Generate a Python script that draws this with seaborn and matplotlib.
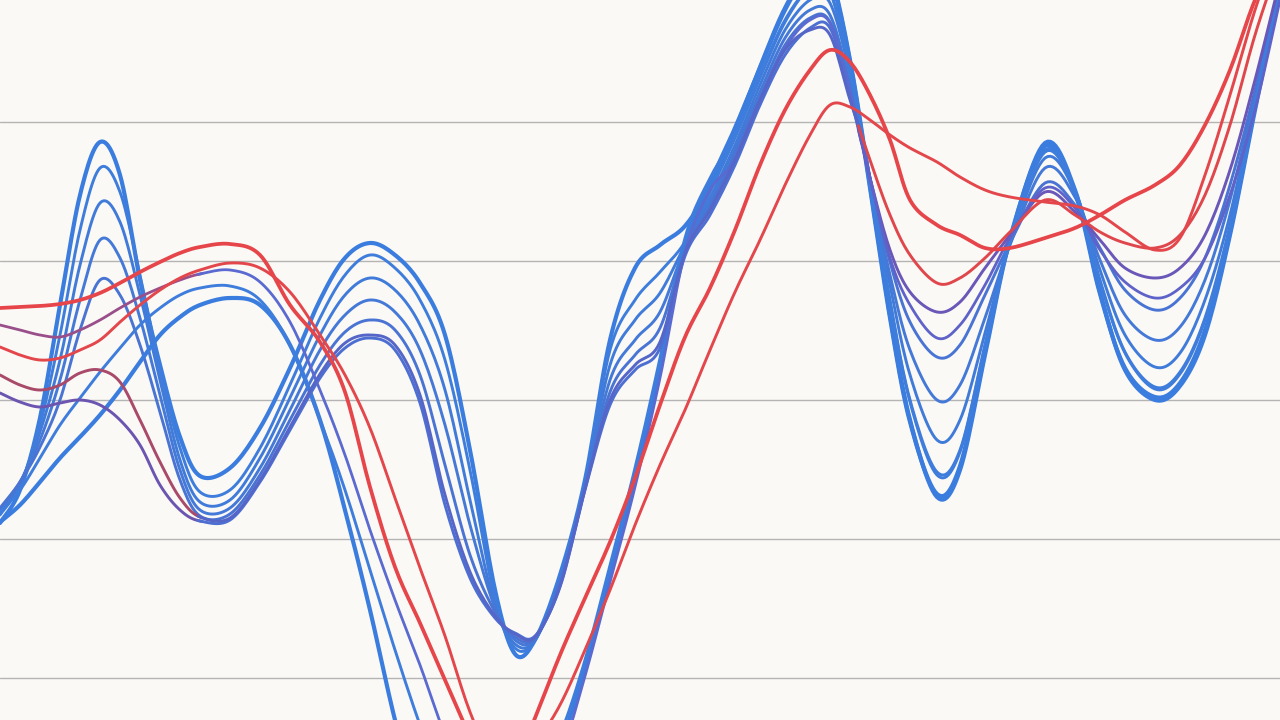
import matplotlib
matplotlib.use("Agg")
import matplotlib.pyplot as plt
import numpy as np
import pandas as pd
import seaborn as sns

# Shared x positions (pixels across the frame)
X = [0, 20, 40, 60, 80, 100, 120, 140, 160, 180,
     200, 230, 260, 290, 320, 345, 370, 395, 420, 445,
     470, 495, 515, 535, 560, 585, 610, 635, 660, 685,
     710, 735, 760, 785, 810, 830, 850, 870, 890, 910,
     937, 960, 985, 1010, 1045, 1075, 1100, 1125, 1155, 1180,
     1205, 1230, 1255, 1280]

# Horizontal grid lines
GRID_Y = [122, 261, 400, 539, 678]

# "A" family: sharp peak near x=100
A0 = [523, 490, 418, 305, 195, 142, 175, 280, 365, 437,
      476, 468, 428, 368, 300, 258, 243, 255, 283, 335,
      450, 590, 654, 640, 575, 480, 340, 268, 245, 226,
      187, 130, 67, 8, -30, -25, 60, 185, 315, 420,
      497, 470, 355, 240, 143, 190, 292, 370, 400, 386,
      335, 235, 110, -10]
A1 = [515, 485, 425, 335, 230, 168, 192, 275, 370, 448,
      492, 490, 448, 385, 318, 275, 255, 268, 300, 360,
      470, 600, 648, 640, 578, 482, 350, 300, 272, 242,
      192, 138, 78, 22, -12, -8, 70, 180, 300, 400,
      472, 450, 345, 242, 150, 190, 280, 352, 387, 372,
      318, 225, 105, -15]
A2 = [512, 483, 432, 360, 265, 203, 222, 295, 380, 460,
      502, 500, 458, 398, 335, 295, 278, 290, 325, 390,
      500, 606, 644, 640, 580, 484, 365, 320, 293, 245,
      198, 145, 85, 30, 0, 3, 75, 178, 285, 375,
      440, 420, 333, 243, 158, 192, 270, 335, 367, 353,
      300, 215, 100, -15]
A3 = [510, 482, 440, 380, 300, 240, 258, 318, 395, 470,
      510, 508, 468, 410, 350, 315, 300, 312, 350, 425,
      525, 608, 640, 639, 582, 486, 380, 340, 312, 248,
      203, 150, 92, 38, 10, 15, 85, 180, 275, 350,
      400, 385, 318, 245, 168, 197, 260, 315, 340, 327,
      280, 200, 95, -15]
A4 = [508, 482, 447, 400, 330, 280, 295, 345, 412, 480,
      516, 514, 475, 420, 365, 332, 320, 330, 375, 465,
      555, 612, 637, 638, 584, 488, 392, 355, 328, 250,
      207, 155, 98, 45, 18, 22, 92, 178, 262, 322,
      357, 345, 295, 243, 183, 205, 248, 290, 310, 298,
      258, 185, 90, -15]
A5 = [375, 385, 390, 385, 373, 370, 382, 420, 462, 498,
      517, 518, 480, 427, 374, 343, 335, 345, 395, 495,
      572, 616, 634, 637, 586, 489, 400, 365, 342, 253,
      210, 160, 100, 50, 30, 35, 100, 160, 215, 255,
      283, 278, 258, 232, 200, 215, 232, 243, 248, 235,
      195, 125, 35, -40]
A6 = [393, 402, 407, 403, 400, 405, 420, 445, 485, 510,
      521, 520, 482, 430, 378, 348, 338, 350, 403, 505,
      578, 618, 633, 636, 587, 490, 405, 370, 348, 256,
      215, 165, 105, 55, 28, 28, 95, 178, 250, 292,
      312, 302, 268, 235, 192, 212, 240, 268, 278, 268,
      235, 170, 80, -20]

# "B" family: broad hump near x=230, dips below the frame near x=480
B0 = [522, 505, 482, 458, 437, 415, 390, 362, 335, 317,
      305, 298, 305, 345, 420, 510, 610, 720, 810, 860,
      875, 860, 830, 790, 745, 668, 575, 478, 368, 245,
      183, 128, 68, 10, -28, -22, 62, 188, 318, 422,
      494, 466, 352, 238, 146, 193, 294, 368, 397, 383,
      330, 232, 106, -18]
B1 = [512, 490, 458, 425, 398, 372, 348, 325, 308, 295,
      288, 286, 300, 345, 420, 490, 570, 650, 725, 790,
      840, 850, 822, 782, 735, 660, 565, 468, 358, 238,
      178, 136, 76, 20, -12, -8, 72, 182, 302, 402,
      475, 452, 346, 243, 152, 192, 282, 353, 389, 374,
      320, 228, 106, -14]
B2 = [325, 330, 335, 337, 330, 320, 308, 297, 288, 280,
      274, 270, 282, 322, 390, 455, 530, 600, 665, 735,
      790, 805, 800, 780, 755, 676, 582, 487, 378, 252,
      190, 160, 100, 48, 20, 23, 90, 178, 258, 305,
      338, 325, 285, 238, 188, 208, 250, 282, 298, 288,
      258, 195, 110, 0]
B3 = [347, 355, 360, 358, 350, 340, 322, 305, 290, 278,
      270, 263, 268, 292, 335, 375, 428, 498, 568, 636,
      712, 765, 775, 745, 705, 650, 590, 525, 465, 410,
      350, 292, 240, 185, 135, 105, 107, 120, 135, 148,
      162, 177, 190, 197, 202, 206, 215, 232, 250, 238,
      175, 95, 10, -60]
B4 = [308, 307, 306, 304, 300, 293, 283, 272, 262, 253,
      247, 244, 255, 305, 342, 392, 487, 567, 623, 680,
      735, 770, 765, 718, 655, 598, 542, 478, 405, 337,
      288, 230, 165, 110, 70, 50, 62, 95, 140, 200,
      225, 235, 248, 248, 238, 228, 215, 200, 185, 165,
      125, 70, 0, -50]

CURVES = {"a0": A0, "a1": A1, "a2": A2, "a3": A3, "a4": A4,
          "b0": B0, "b1": B1, "a6": A6, "b2": B2,
          "a5": A5, "b3": B3, "b4": B4}

# colour per curve; a few curves change hue along their length
# (left part, middle part, right part split at these x positions)
SPLIT_X = [200, 860]
COLORS = {"a0": ["#3b7ddf"], "a1": ["#3f7ddc"], "a2": ["#417bda"],
          "a3": ["#4479d8"], "a4": ["#4a74d4"],
          "b0": ["#3b7ddf"], "b1": ["#3f7ddc"],
          "a6": ["#6b55b0", "#4d6fd2", "#6a57b8"],
          "b2": ["#9a4f8a", "#5a6ad0", "#5f62c8"],
          "a5": ["#a94a6a", "#5566c8", "#e0474c"],
          "b3": ["#e3474c"], "b4": ["#e6454a"]}
WIDTHS = {"a0": 3.0, "a1": 2.1, "a2": 2.1, "a3": 2.1, "a4": 2.1,
          "b0": 3.0, "b1": 2.1, "a6": 2.1, "b2": 2.0,
          "a5": 2.1, "b3": 2.1, "b4": 2.7}

BG = "#faf9f5"


def smooth(xs, ys, steps=12):
    """Catmull-Rom curve through the read points (line rendering style only)."""
    px = np.r_[xs[0], xs, xs[-1]].astype(float)
    py = np.r_[ys[0], ys, ys[-1]].astype(float)
    t = np.linspace(0, 1, steps, endpoint=False)
    out_x, out_y = [], []
    for i in range(1, len(px) - 2):
        for p, out in ((px, out_x), (py, out_y)):
            p0, p1, p2, p3 = p[i - 1], p[i], p[i + 1], p[i + 2]
            out.extend(0.5 * (2 * p1 + (-p0 + p2) * t
                              + (2 * p0 - 5 * p1 + 4 * p2 - p3) * t ** 2
                              + (-p0 + 3 * p1 - 3 * p2 + p3) * t ** 3))
    out_x.append(px[-2])
    out_y.append(py[-2])
    return np.array(out_x), np.array(out_y)


frames, palette, sizes, order = [], {}, {}, []
for name, ys in CURVES.items():
    sx, sy = smooth(X, ys)
    cols = COLORS[name]
    if len(cols) == 1:
        bounds = [(-1e9, 1e9)]
    else:
        edges = [-1e9] + SPLIT_X + [1e9]
        bounds = list(zip(edges[:-1], edges[1:]))
    for k, (lo, hi) in enumerate(bounds):
        key = f"{name}_{k}"
        m = (sx >= lo - 3) & (sx <= hi + 3)
        frames.append(pd.DataFrame({"curve": key, "x": sx[m], "y": sy[m]}))
        palette[key] = cols[k]
        sizes[key] = WIDTHS[name]
        order.append(key)
df = pd.concat(frames, ignore_index=True)

sns.set_theme(style="white")
plt.rcParams["lines.solid_joinstyle"] = "round"
plt.rcParams["lines.solid_capstyle"] = "round"

fig = plt.figure(figsize=(12.8, 7.2), dpi=100, facecolor=BG)
ax = fig.add_axes([0, 0, 1, 1])
ax.set_facecolor(BG)

sns.lineplot(data=df, x="x", y="y", hue="curve", size="curve",
             hue_order=order, size_order=order,
             palette=palette, sizes=sizes,
             estimator=None, sort=False, legend=False, ax=ax)

ax.set_xlim(0, 1280)
ax.set_ylim(720, 0)
ax.set_yticks(GRID_Y)
ax.set_xticks([])
ax.grid(axis="y", color="#b4b4b4", linewidth=1.0)
ax.set_axisbelow(True)
ax.tick_params(left=False, labelleft=False, bottom=False, labelbottom=False)
ax.set_xlabel("")
ax.set_ylabel("")
for s in ax.spines.values():
    s.set_visible(False)

fig.savefig("out.png", dpi=100, facecolor=BG)
